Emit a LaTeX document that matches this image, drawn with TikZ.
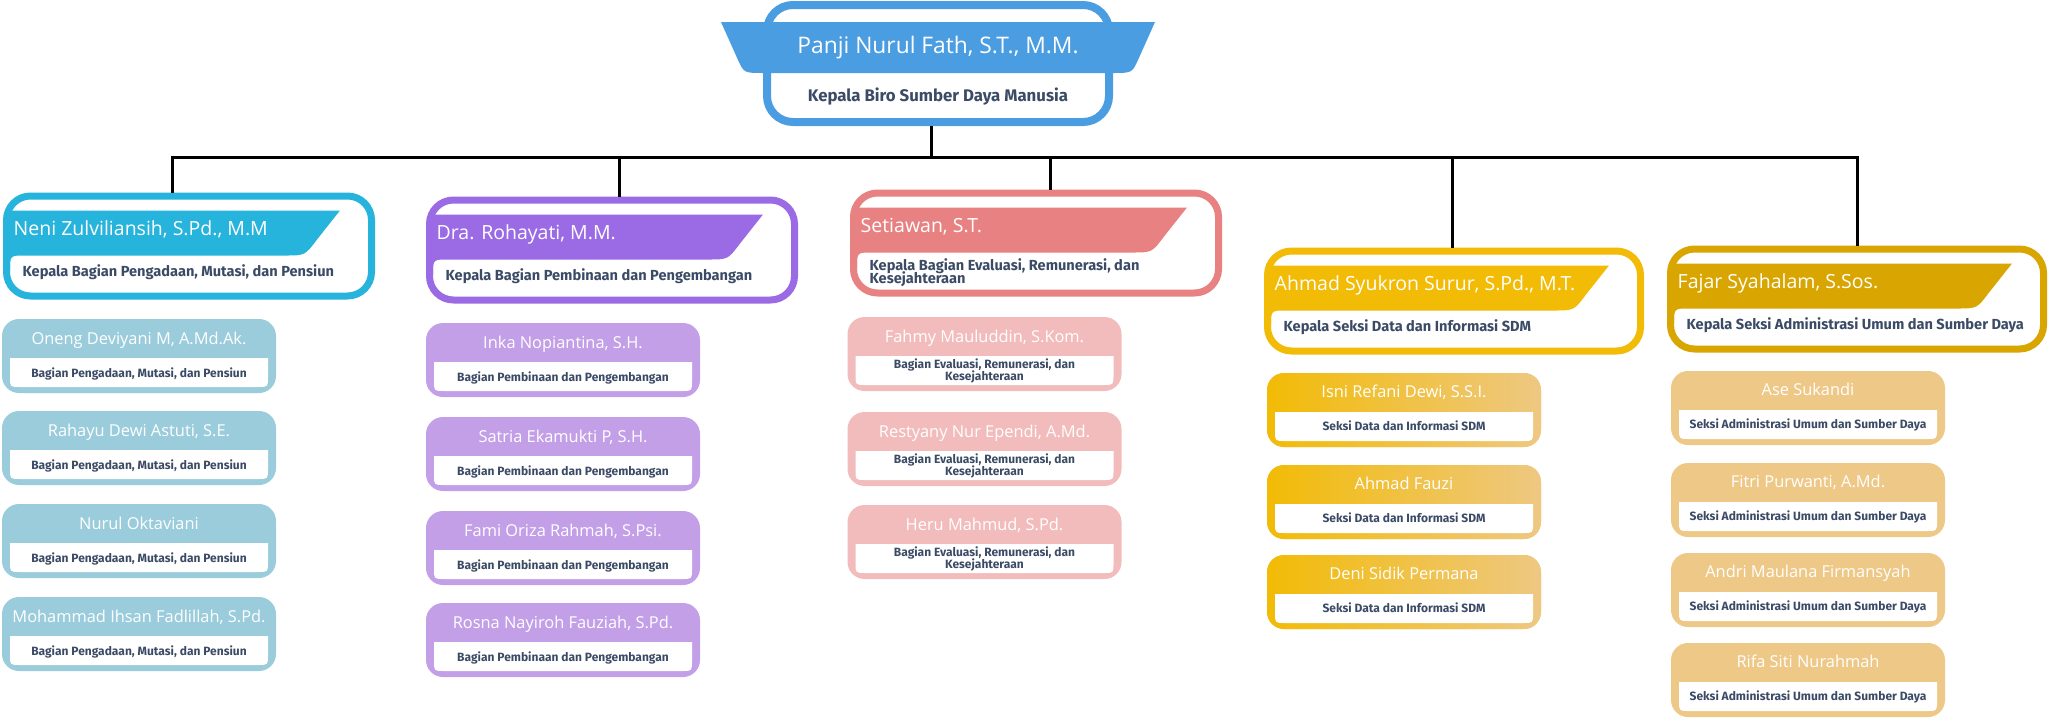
\documentclass[tikz,border=0pt]{standalone}
\usepackage{fontspec}
\setmainfont{Open Sans}
\newfontfamily\rolefont{Fira Sans}
\usetikzlibrary{positioning,calc}

\definecolor{bossBlue}{HTML}{4A9DE0}
\definecolor{teamA}{HTML}{26B3DC}
\definecolor{staffA}{HTML}{9ACCDC}
\definecolor{teamB}{HTML}{9B6BE5}
\definecolor{staffB}{HTML}{C39FE8}
\definecolor{teamC}{HTML}{E88181}
\definecolor{staffC}{HTML}{F2BCBC}
\definecolor{teamD}{HTML}{F2BB06}
\definecolor{staffD}{HTML}{EEC882}
\definecolor{teamE}{HTML}{D9A500}
\definecolor{staffE}{HTML}{EEC887}
\definecolor{roleInk}{HTML}{3B4B66}

\begin{document}
\begin{tikzpicture}[x=1pt,y=-1pt,
  conn/.style={line width=3pt,black},
  bosscard/.style={draw=bossBlue,line width=8pt,fill=white,rounded corners=26pt,
    minimum width=342pt,minimum height=117pt,inner sep=0pt},
  headcard/.style={draw=#1,line width=7pt,fill=white,rounded corners=24pt,
    minimum width=365pt,minimum height=100pt,inner sep=0pt,
    path picture={\fill[#1,sharp corners]
      let \p1=(path picture bounding box.north west),
          \p2=(path picture bounding box.north east) in
      (\x1-5pt,\y1-14.5pt) -- (\x2-31.5pt,\y1-14.5pt)
      -- (\x2-54.5pt,\y1-43.5pt) .. controls (\x2-66.5pt,\y1-59.5pt) .. (\x2-86.5pt,\y1-59.5pt)
      -- (\x1+18.5pt,\y1-59.5pt) .. controls (\x1+3.5pt,\y1-59.5pt) .. (\x1+3.5pt,\y1-74.5pt)
      -- (\x1-5pt,\y1-74.5pt) -- cycle;}},
  staffcard/.style={fill=#1,rounded corners=17pt,minimum width=274pt,minimum height=74pt,
    inner sep=0pt,outer sep=0pt,
    path picture={\fill[white,sharp corners]
      let \p1=(path picture bounding box.north west),
          \p2=(path picture bounding box.south east) in
      (\x1+8pt,\y1-39pt) -- (\x2-8pt,\y1-39pt) -- (\x2-8pt,\y2+16pt)
      .. controls (\x2-8pt,\y2+6pt) .. (\x2-18pt,\y2+6pt) -- (\x1+18pt,\y2+6pt)
      .. controls (\x1+8pt,\y2+6pt) .. (\x1+8pt,\y2+16pt) -- cycle;}},
  bname/.style={anchor=base,inner sep=0pt,text=white,font=\fontsize{22.8}{27}\selectfont},
  brole/.style={anchor=base,inner sep=0pt,text=roleInk,font=\rolefont\bfseries\fontsize{16.8}{20}\selectfont},
  hname/.style={anchor=base west,inner sep=0pt,text=white,font=\fontsize{19.5}{23}\selectfont},
  hrole/.style={anchor=base west,inner sep=0pt,text=roleInk,align=left,
    font={\rolefont\bfseries\fontsize{14.6}{13.5}\selectfont\lineskiplimit-20pt}},
  sname/.style={anchor=base,inner sep=0pt,text=white,font=\fontsize{16.4}{19}\selectfont},
  srole/.style={anchor=base,inner sep=0pt,text=roleInk,align=center,
    font={\rolefont\bfseries\fontsize{12}{12}\selectfont\lineskiplimit-20pt}}]
\useasboundingbox (0,0) rectangle (2048,718);

% head of the bureau
\node[bosscard] (boss) at (938,63.5) {};
\fill[bossBlue] (721,22) -- (1155,22) -- (1138,60) .. controls (1132,73) .. (1112,73)
  -- (764,73) .. controls (744,73) .. (738,60) -- cycle;
\node[bname] (bossn) at (938,53) {Panji Nurul Fath, S.T., M.M.};
\node[brole] (bossr) at (938,101) {Kepala Biro Sumber Daya Manusia};

% heads of the sections
\node[headcard=teamA] (hA) at (189,246) {};
\node[headcard=teamB] (hB) at (612,250) {};
\node[headcard=teamC] (hC) at (1036,243) {};
\node[headcard=teamD,minimum width=373pt] (hD) at (1454,301) {};
\node[headcard=teamE,minimum width=373pt] (hE) at (1857,299) {};
\node[hname] (hAn) at ([xshift=10.5pt,yshift=-43pt]hA.north west) {Neni Zulviliansih, S.Pd., M.M};
\node[hrole] (hAr) at ([xshift=19.5pt,yshift=-83.5pt]hA.north west) {Kepala Bagian Pengadaan, Mutasi, dan Pensiun};
\node[hname] (hBn) at ([xshift=10.5pt,yshift=-43pt]hB.north west) {Dra. Rohayati, M.M.};
\node[hrole] (hBr) at ([xshift=19.5pt,yshift=-83.5pt]hB.north west) {Kepala Bagian Pembinaan dan Pengembangan};
\node[hname] (hCn) at ([xshift=10.5pt,yshift=-43pt]hC.north west) {Setiawan, S.T.};
\node[hrole] (hCr) at ([xshift=19.5pt,yshift=-94pt]hC.north west) {Kepala Bagian Evaluasi, Remunerasi, dan\\Kesejahteraan};
\node[hname] (hDn) at ([xshift=10.5pt,yshift=-43pt]hD.north west) {Ahmad Syukron Surur, S.Pd., M.T.};
\node[hrole] (hDr) at ([xshift=19.5pt,yshift=-83.5pt]hD.north west) {Kepala Seksi Data dan Informasi SDM};
\node[hname] (hEn) at ([xshift=10.5pt,yshift=-43pt]hE.north west) {Fajar Syahalam, S.Sos.};
\node[hrole] (hEr) at ([xshift=19.5pt,yshift=-83.5pt]hE.north west) {Kepala Seksi Administrasi Umum dan Sumber Daya};

% staff
\foreach \i/\y/\nm in {1/356/{Oneng Deviyani M, A.Md.Ak.},2/448/{Rahayu Dewi Astuti, S.E.},
    3/541/{Nurul Oktaviani},4/634/{Mohammad Ihsan Fadlillah, S.Pd.}} {
  \node[staffcard=staffA] (sA\i) at (139,\y) {};
  \node[sname] (sA\i n) at ([yshift=12pt]sA\i.center) {\nm};
  \node[srole] (sA\i r) at ([yshift=-21pt]sA\i.center) {Bagian Pengadaan, Mutasi, dan Pensiun};
}
\foreach \i/\y/\nm in {1/360/{Inka Nopiantina, S.H.},2/454/{Satria Ekamukti P, S.H.},
    3/548/{Fami Oriza Rahmah, S.Psi.},4/640/{Rosna Nayiroh Fauziah, S.Pd.}} {
  \node[staffcard=staffB] (sB\i) at (563,\y) {};
  \node[sname] (sB\i n) at ([yshift=12pt]sB\i.center) {\nm};
  \node[srole] (sB\i r) at ([yshift=-21pt]sB\i.center) {Bagian Pembinaan dan Pengembangan};
}
\foreach \i/\y/\nm in {1/354/{Fahmy Mauluddin, S.Kom.},2/449/{Restyany Nur Ependi, A.Md.},
    3/542/{Heru Mahmud, S.Pd.}} {
  \node[staffcard=staffC] (sC\i) at (984.5,\y) {};
  \node[sname] (sC\i n) at ([yshift=12pt]sC\i.center) {\nm};
  \node[srole] (sC\i r) at ([yshift=-26pt]sC\i.center) {Bagian Evaluasi, Remunerasi, dan\\Kesejahteraan};
}
\foreach \i/\y/\nm in {1/410/{Isni Refani Dewi, S.S.I.},2/502/{Ahmad Fauzi},3/592/{Deni Sidik Permana}} {
  \node[staffcard=staffD,left color=teamD,right color=staffD] (sD\i) at (1404,\y) {};
  \node[sname] (sD\i n) at ([yshift=13pt]sD\i.center) {\nm};
  \node[srole] (sD\i r) at ([yshift=-20pt]sD\i.center) {Seksi Data dan Informasi SDM};
}
\foreach \i/\y/\nm in {1/408/{Ase Sukandi},2/500/{Fitri Purwanti, A.Md.},
    3/590/{Andri Maulana Firmansyah},4/680/{Rifa Siti Nurahmah}} {
  \node[staffcard=staffE] (sE\i) at (1808,\y) {};
  \node[sname] (sE\i n) at ([yshift=13pt]sE\i.center) {\nm};
  \node[srole] (sE\i r) at ([yshift=-20pt]sE\i.center) {Seksi Administrasi Umum dan Sumber Daya};
}

% connectors
\coordinate (bus) at (931,157);
\draw[conn] (boss.south -| bus) -- (bus);
\draw[conn] ([xshift=-17pt]hA.north) |- (bus);
\draw[conn] (hE.north) |- (bus);
\draw[conn] ([xshift=7pt]hB.north) -- ([xshift=7pt]hB.north |- bus);
\draw[conn] ([xshift=14pt]hC.north) -- ([xshift=14pt]hC.north |- bus);
\draw[conn] ([xshift=-2pt]hD.north) -- ([xshift=-2pt]hD.north |- bus);
\end{tikzpicture}
\end{document}
